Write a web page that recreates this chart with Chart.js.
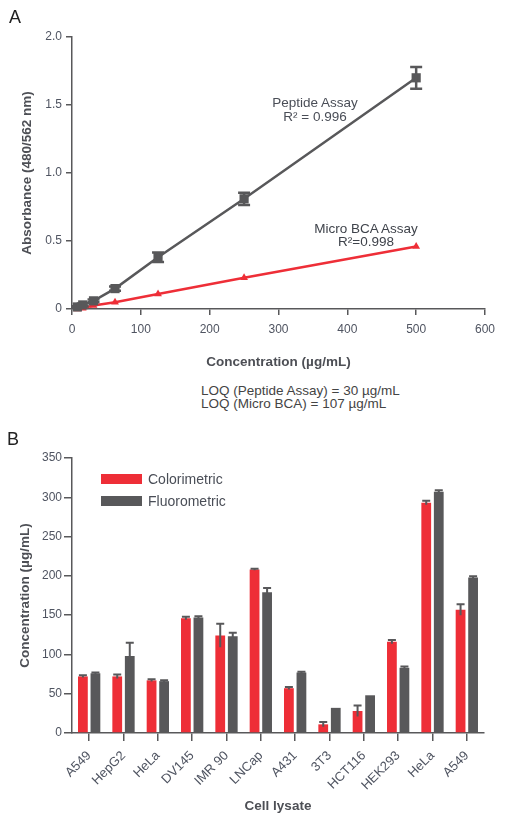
<!DOCTYPE html>
<html>
<head>
<meta charset="utf-8">
<script src="https://cdn.jsdelivr.net/npm/chart.js@4.4.1/dist/chart.umd.min.js"></script>
<style>
body { margin: 0; background: #fff; font-family: "Liberation Sans", Arial, sans-serif; }
#wrap { position: relative; width: 522px; height: 825px; overflow: hidden; }
canvas { position: absolute; left: 0; }
#chartA { top: 0; }
#chartB { top: 415px; }
.txt { position: absolute; color: #4a4e57; white-space: nowrap; }
.mid { transform: translateX(-50%); text-align: center; }
</style>
</head>
<body>
<div id="wrap">
  <canvas id="chartA" width="522" height="372"></canvas>
  <canvas id="chartB" width="522" height="410"></canvas>

  <div class="txt" style="left:9px;top:7px;font-size:18px;color:#222">A</div>
  <div class="txt" style="left:7px;top:429px;font-size:18px;color:#222">B</div>

  <div class="txt mid" style="left:315px;top:96px;font-size:13.5px;line-height:14px">Peptide Assay<br>R² = 0.996</div>
  <div class="txt mid" style="left:366px;top:222px;font-size:13.5px;line-height:13px;color:#3f434b">Micro BCA Assay<br>R²=0.998</div>

  <div class="txt" style="left:201px;top:384px;font-size:13.5px;line-height:13px;color:#444">LOQ (Peptide Assay) = 30 µg/mL<br>LOQ (Micro BCA) = 107 µg/mL</div>
</div>

<script>
// ---- panel A: standard curves ----
const concentrations = [7.8, 15.6, 31.25, 62.5, 125, 250, 500];
const peptideAbs = [0.015, 0.03, 0.06, 0.15, 0.38, 0.81, 1.70];
const peptideErr = [0.005, 0.01, 0.01, 0.015, 0.035, 0.045, 0.08];
const microBcaAbs = [0.0, 0.005, 0.025, 0.05, 0.11, 0.23, 0.46];

// ---- panel B: cell lysates ----
const cellLysates = ['A549', 'HepG2', 'HeLa', 'DV145', 'IMR 90', 'LNCap', 'A431', '3T3', 'HCT116', 'HEK293', 'HeLa', 'A549'];
const colorimetric = [72, 72, 67, 146, 124, 208, 57, 11, 28, 116, 293, 157];
const colorimetricErr = [1.5, 2.5, 1.5, 2, 15, 1, 1.5, 3, 7, 2.5, 2.5, 7];
const fluorometric = [76, 98, 66, 147, 123, 179, 77, 32, 48, 83, 307, 198];
const fluorometricErr = [1, 17, 1, 1.5, 4.5, 5.5, 1, 0, 0, 1.5, 2, 1.5];

const RED = '#ee2e37';
const GREY = '#58585a';
const TICK_COLOR = '#4f5461';
const TITLE_COLOR = '#4d4f55';
const FONT = '"Liberation Sans", Arial, sans-serif';

// draws vertical error bars from a dataset's "errors" array
const errorBars = {
  id: 'errorBars',
  afterDatasetsDraw(chart, args, opts) {
    const ctx = chart.ctx;
    const yScale = chart.scales.y;
    chart.data.datasets.forEach((ds, di) => {
      if (!ds.errors) return;
      const meta = chart.getDatasetMeta(di);
      ctx.save();
      ctx.strokeStyle = opts.color;
      ctx.lineWidth = opts.lineWidth;
      meta.data.forEach((el, i) => {
        const err = ds.errors[i];
        if (!err) return;
        const d = ds.data[i];
        const v = typeof d === 'object' ? d.y : d;
        const top = yScale.getPixelForValue(v + err);
        const bottom = yScale.getPixelForValue(v - err);
        const half = opts.capWidth / 2;
        ctx.beginPath();
        ctx.moveTo(el.x, bottom);
        ctx.lineTo(el.x, top);
        ctx.moveTo(el.x - half, top);
        ctx.lineTo(el.x + half, top);
        if (opts.bottomCap) {
          ctx.moveTo(el.x - half, bottom);
          ctx.lineTo(el.x + half, bottom);
        }
        ctx.stroke();
      });
      ctx.restore();
    });
  }
};

// simple boxed legend placed inside the plot
const boxLegend = {
  id: 'boxLegend',
  afterDraw(chart, args, opts) {
    const ctx = chart.ctx;
    ctx.save();
    chart.data.datasets.forEach((ds, i) => {
      const y = opts.top + i * opts.gap;
      ctx.fillStyle = ds.backgroundColor;
      ctx.fillRect(opts.left, y, opts.boxWidth, opts.boxHeight);
      ctx.fillStyle = opts.color;
      ctx.font = opts.fontSize + 'px ' + FONT;
      ctx.textBaseline = 'middle';
      ctx.fillText(ds.label, opts.left + opts.boxWidth + 6, y + opts.boxHeight / 2 + 1);
    });
    ctx.restore();
  }
};

function axisStyle(tickLength) {
  return {
    grid: { drawOnChartArea: false, color: GREY, tickLength: tickLength, lineWidth: 1.5 },
    border: { color: GREY, width: 1.5 }
  };
}

const chartA = new Chart(document.getElementById('chartA'), {
  type: 'scatter',
  data: {
    datasets: [
      {
        label: 'Peptide Assay',
        data: concentrations.map((c, i) => ({ x: c, y: peptideAbs[i] })),
        errors: peptideErr,
        showLine: true,
        borderColor: GREY,
        backgroundColor: GREY,
        borderWidth: 2.5,
        pointStyle: 'rect',
        pointRadius: 6.5,
        pointBorderWidth: 0,
        clip: false
      },
      {
        label: 'Micro BCA Assay',
        data: concentrations.map((c, i) => ({ x: c, y: microBcaAbs[i] })),
        showLine: true,
        borderColor: RED,
        backgroundColor: RED,
        borderWidth: 2.5,
        pointStyle: 'triangle',
        pointRadius: 4.5,
        pointBorderWidth: 0,
        clip: false
      }
    ]
  },
  options: {
    responsive: false,
    animation: false,
    layout: { padding: { top: 37, right: 37, left: 0, bottom: 0 } },
    plugins: {
      legend: { display: false },
      tooltip: { enabled: false },
      errorBars: { color: GREY, lineWidth: 2.5, capWidth: 12, bottomCap: true }
    },
    scales: {
      x: {
        type: 'linear',
        min: 0,
        max: 600,
        ticks: { stepSize: 100, color: TICK_COLOR, font: { size: 12, family: FONT }, padding: 7 },
        ...axisStyle(6),
        title: {
          display: true,
          text: 'Concentration (µg/mL)',
          color: TITLE_COLOR,
          font: { size: 13.5, weight: 'bold', family: FONT },
          padding: { top: 0, bottom: 2 }
        },
        afterFit(scale) { scale.height = 63; }
      },
      y: {
        min: 0,
        max: 2,
        ticks: {
          stepSize: 0.5,
          color: TICK_COLOR,
          font: { size: 12, family: FONT },
          padding: 4,
          callback: v => v === 0 ? '0' : v.toFixed(1)
        },
        ...axisStyle(6),
        title: {
          display: true,
          text: 'Absorbance (480/562 nm)',
          color: TITLE_COLOR,
          font: { size: 13.5, weight: 'bold', family: FONT },
          padding: { top: 19, bottom: 0 }
        },
        afterFit(scale) { scale.width = 72; }
      }
    }
  },
  plugins: [errorBars]
});

const chartB = new Chart(document.getElementById('chartB'), {
  type: 'bar',
  data: {
    labels: cellLysates,
    datasets: [
      { label: 'Colorimetric', data: colorimetric, errors: colorimetricErr, backgroundColor: RED },
      { label: 'Fluorometric', data: fluorometric, errors: fluorometricErr, backgroundColor: GREY }
    ]
  },
  options: {
    responsive: false,
    animation: false,
    categoryPercentage: 0.73,
    barPercentage: 0.78,
    layout: { padding: { top: 43, right: 38, left: 0, bottom: 0 } },
    plugins: {
      legend: { display: false },
      tooltip: { enabled: false },
      errorBars: { color: GREY, lineWidth: 2, capWidth: 8, bottomCap: false },
      boxLegend: { left: 101, top: 59, gap: 22, boxWidth: 41, boxHeight: 10, fontSize: 14, color: '#4a4e57' }
    },
    scales: {
      x: {
        ticks: {
          color: TICK_COLOR,
          font: { size: 13, family: FONT },
          minRotation: 45,
          maxRotation: 45,
          autoSkip: false,
          padding: 7
        },
        grid: { drawOnChartArea: false, color: GREY, tickLength: 8, lineWidth: 1.5, offset: false },
        border: { color: GREY, width: 1.5 },
        title: {
          display: true,
          text: 'Cell lysate',
          color: TITLE_COLOR,
          font: { size: 13.5, weight: 'bold', family: FONT },
          padding: { top: 0, bottom: 11 }
        },
        afterFit(scale) { scale.height = 92; }
      },
      y: {
        min: 0,
        max: 350,
        ticks: { stepSize: 50, color: TICK_COLOR, font: { size: 12, family: FONT }, padding: 2 },
        ...axisStyle(8),
        title: {
          display: true,
          text: 'Concentration (µg/mL)',
          color: TITLE_COLOR,
          font: { size: 13.5, weight: 'bold', family: FONT },
          padding: { top: 17, bottom: 0 }
        },
        afterFit(scale) { scale.width = 72; }
      }
    }
  },
  plugins: [errorBars, boxLegend]
});
</script>
</body>
</html>
